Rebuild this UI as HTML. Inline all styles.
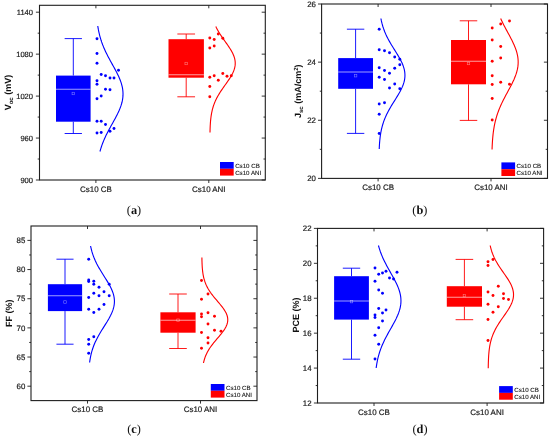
<!DOCTYPE html>
<html><head><meta charset="utf-8"><style>
html,body{margin:0;padding:0;background:#fff;}
svg{display:block;}
.tl{font-family:"Liberation Sans",Arial,sans-serif;fill:#1a1a1a;stroke:#1a1a1a;stroke-width:0.18px;}
.cl{font-family:"Liberation Sans",Arial,sans-serif;font-size:7.95px;fill:#1a1a1a;stroke:#1a1a1a;stroke-width:0.18px;}
.lg{font-family:"Liberation Sans",Arial,sans-serif;font-size:6.15px;fill:#1a1a1a;stroke:#1a1a1a;stroke-width:0.12px;}
.yt{font-family:"Liberation Sans",Arial,sans-serif;font-size:9px;font-weight:bold;fill:#111;}
.pl{font-family:"Liberation Serif","Times New Roman",serif;font-size:12.3px;fill:#111;}
svg text{text-rendering:geometricPrecision;}
</style></head><body>
<svg width="550" height="441" viewBox="0 0 550 441">
<rect width="550" height="441" fill="#fff"/>
<rect x="39.5" y="5.3" width="225.8" height="174.7" fill="none" stroke="#1e1e1e" stroke-width="1.1"/>
<line x1="35.9" y1="180.0" x2="39.5" y2="180.0" stroke="#1e1e1e" stroke-width="0.9"/>
<line x1="265.3" y1="180.0" x2="261.7" y2="180.0" stroke="#1e1e1e" stroke-width="0.9"/>
<text x="33.0" y="182.70" class="tl" text-anchor="end" font-size="7.55px">900</text>
<line x1="35.9" y1="138.05" x2="39.5" y2="138.05" stroke="#1e1e1e" stroke-width="0.9"/>
<line x1="265.3" y1="138.05" x2="261.7" y2="138.05" stroke="#1e1e1e" stroke-width="0.9"/>
<text x="33.0" y="140.75" class="tl" text-anchor="end" font-size="7.55px">960</text>
<line x1="35.9" y1="96.1" x2="39.5" y2="96.1" stroke="#1e1e1e" stroke-width="0.9"/>
<line x1="265.3" y1="96.1" x2="261.7" y2="96.1" stroke="#1e1e1e" stroke-width="0.9"/>
<text x="33.0" y="98.80" class="tl" text-anchor="end" font-size="7.55px">1020</text>
<line x1="35.9" y1="54.15" x2="39.5" y2="54.15" stroke="#1e1e1e" stroke-width="0.9"/>
<line x1="265.3" y1="54.15" x2="261.7" y2="54.15" stroke="#1e1e1e" stroke-width="0.9"/>
<text x="33.0" y="56.85" class="tl" text-anchor="end" font-size="7.55px">1080</text>
<line x1="35.9" y1="12.2" x2="39.5" y2="12.2" stroke="#1e1e1e" stroke-width="0.9"/>
<line x1="265.3" y1="12.2" x2="261.7" y2="12.2" stroke="#1e1e1e" stroke-width="0.9"/>
<text x="33.0" y="14.90" class="tl" text-anchor="end" font-size="7.55px">1140</text>
<line x1="37.7" y1="159.03" x2="39.5" y2="159.03" stroke="#1e1e1e" stroke-width="0.9"/>
<line x1="265.3" y1="159.03" x2="263.5" y2="159.03" stroke="#1e1e1e" stroke-width="0.9"/>
<line x1="37.7" y1="117.07" x2="39.5" y2="117.07" stroke="#1e1e1e" stroke-width="0.9"/>
<line x1="265.3" y1="117.07" x2="263.5" y2="117.07" stroke="#1e1e1e" stroke-width="0.9"/>
<line x1="37.7" y1="75.12" x2="39.5" y2="75.12" stroke="#1e1e1e" stroke-width="0.9"/>
<line x1="265.3" y1="75.12" x2="263.5" y2="75.12" stroke="#1e1e1e" stroke-width="0.9"/>
<line x1="37.7" y1="33.18" x2="39.5" y2="33.18" stroke="#1e1e1e" stroke-width="0.9"/>
<line x1="265.3" y1="33.18" x2="263.5" y2="33.18" stroke="#1e1e1e" stroke-width="0.9"/>
<line x1="95.9" y1="180" x2="95.9" y2="183" stroke="#1e1e1e" stroke-width="0.9"/>
<line x1="95.9" y1="5.3" x2="95.9" y2="8.3" stroke="#1e1e1e" stroke-width="0.9"/>
<text x="95.9" y="191.8" class="cl" text-anchor="middle">Cs10 CB</text>
<line x1="208.8" y1="180" x2="208.8" y2="183" stroke="#1e1e1e" stroke-width="0.9"/>
<line x1="208.8" y1="5.3" x2="208.8" y2="8.3" stroke="#1e1e1e" stroke-width="0.9"/>
<text x="208.8" y="191.8" class="cl" text-anchor="middle">Cs10 ANI</text>
<line x1="73.3" y1="38.6" x2="73.3" y2="75.6" stroke="#0000ff" stroke-width="0.9"/>
<line x1="73.3" y1="121.7" x2="73.3" y2="133.5" stroke="#0000ff" stroke-width="0.9"/>
<line x1="64.64999999999999" y1="38.6" x2="81.95" y2="38.6" stroke="#0000ff" stroke-width="0.9"/>
<line x1="64.64999999999999" y1="133.5" x2="81.95" y2="133.5" stroke="#0000ff" stroke-width="0.9"/>
<rect x="56.0" y="75.6" width="34.6" height="46.10000000000001" fill="#0000ff"/>
<line x1="56.0" y1="89.3" x2="90.6" y2="89.3" stroke="#fff" stroke-opacity="0.62" stroke-width="1.05"/>
<rect x="72.05" y="92.25" width="2.5" height="2.5" fill="none" stroke="#fff" stroke-opacity="0.5" stroke-width="0.55"/>
<line x1="186.2" y1="34.0" x2="186.2" y2="39.2" stroke="#ff0000" stroke-width="0.9"/>
<line x1="186.2" y1="77.7" x2="186.2" y2="96.8" stroke="#ff0000" stroke-width="0.9"/>
<line x1="177.35" y1="34.0" x2="195.04999999999998" y2="34.0" stroke="#ff0000" stroke-width="0.9"/>
<line x1="177.35" y1="96.8" x2="195.04999999999998" y2="96.8" stroke="#ff0000" stroke-width="0.9"/>
<rect x="168.5" y="39.2" width="35.4" height="38.5" fill="#ff0000"/>
<line x1="168.5" y1="74.8" x2="203.89999999999998" y2="74.8" stroke="#fff" stroke-opacity="0.62" stroke-width="1.05"/>
<rect x="184.95" y="62.25" width="2.5" height="2.5" fill="none" stroke="#fff" stroke-opacity="0.5" stroke-width="0.55"/>
<path d="M97.77,26.00 L98.03,27.59 L98.30,29.18 L98.61,30.77 L98.94,32.35 L99.31,33.94 L99.70,35.53 L100.13,37.12 L100.59,38.71 L101.08,40.30 L101.61,41.89 L102.18,43.47 L102.77,45.06 L103.41,46.65 L104.07,48.24 L104.77,49.83 L105.50,51.42 L106.27,53.01 L107.05,54.59 L107.87,56.18 L108.70,57.77 L109.55,59.36 L110.42,60.95 L111.30,62.54 L112.18,64.13 L113.07,65.72 L113.95,67.30 L114.82,68.89 L115.67,70.48 L116.50,72.07 L117.31,73.66 L118.08,75.25 L118.82,76.84 L119.51,78.42 L120.15,80.01 L120.74,81.60 L121.27,83.19 L121.73,84.78 L122.13,86.37 L122.46,87.96 L122.71,89.54 L122.89,91.13 L122.99,92.72 L123.02,94.31 L122.96,95.90 L122.83,97.49 L122.62,99.08 L122.34,100.66 L121.99,102.25 L121.56,103.84 L121.07,105.43 L120.52,107.02 L119.91,108.61 L119.25,110.20 L118.54,111.78 L117.79,113.37 L117.00,114.96 L116.18,116.55 L115.34,118.14 L114.48,119.73 L113.60,121.32 L112.72,122.91 L111.84,124.49 L110.96,126.08 L110.08,127.67 L109.22,129.26 L108.37,130.85 L107.55,132.44 L106.74,134.03 L105.96,135.61 L105.22,137.20 L104.50,138.79 L103.81,140.38 L103.16,141.97 L102.54,143.56 L101.95,145.15 L101.40,146.73 L100.89,148.32 L100.41,149.91 L99.96,151.50" fill="none" stroke="#0000ff" stroke-width="1.12"/>
<path d="M215.80,26.50 L216.45,27.84 L217.15,29.18 L217.89,30.53 L218.66,31.87 L219.48,33.21 L220.33,34.55 L221.21,35.89 L222.12,37.23 L223.05,38.58 L223.99,39.92 L224.95,41.26 L225.91,42.60 L226.86,43.94 L227.80,45.28 L228.71,46.63 L229.60,47.97 L230.45,49.31 L231.26,50.65 L232.01,51.99 L232.69,53.34 L233.31,54.68 L233.85,56.02 L234.31,57.36 L234.68,58.70 L234.96,60.04 L235.14,61.39 L235.23,62.73 L235.22,64.07 L235.11,65.41 L234.91,66.75 L234.61,68.09 L234.22,69.44 L233.74,70.78 L233.19,72.12 L232.56,73.46 L231.86,74.80 L231.09,76.15 L230.28,77.49 L229.42,78.83 L228.53,80.17 L227.60,81.51 L226.66,82.85 L225.71,84.20 L224.75,85.54 L223.80,86.88 L222.86,88.22 L221.93,89.56 L221.03,90.91 L220.15,92.25 L219.31,93.59 L218.50,94.93 L217.73,96.27 L217.00,97.61 L216.31,98.96 L215.67,100.30 L215.07,101.64 L214.52,102.98 L214.00,104.32 L213.53,105.66 L213.10,107.01 L212.71,108.35 L212.36,109.69 L212.04,111.03 L211.76,112.37 L211.50,113.72 L211.27,115.06 L211.07,116.40 L210.90,117.74 L210.74,119.08 L210.61,120.42 L210.49,121.77 L210.39,123.11 L210.31,124.45 L210.23,125.79 L210.17,127.13 L210.11,128.47 L210.07,129.82 L210.03,131.16 L210.00,132.50" fill="none" stroke="#ff0000" stroke-width="1.12"/>
<circle cx="97" cy="38.7" r="1.45" fill="#0000ff"/>
<circle cx="97" cy="53.5" r="1.45" fill="#0000ff"/>
<circle cx="97" cy="63.2" r="1.45" fill="#0000ff"/>
<circle cx="118.5" cy="70.2" r="1.45" fill="#0000ff"/>
<circle cx="101.2" cy="74.5" r="1.45" fill="#0000ff"/>
<circle cx="105.5" cy="75.8" r="1.45" fill="#0000ff"/>
<circle cx="110" cy="78" r="1.45" fill="#0000ff"/>
<circle cx="114" cy="78" r="1.45" fill="#0000ff"/>
<circle cx="97" cy="80.8" r="1.45" fill="#0000ff"/>
<circle cx="97" cy="84.2" r="1.45" fill="#0000ff"/>
<circle cx="105.5" cy="89.2" r="1.45" fill="#0000ff"/>
<circle cx="110" cy="89.8" r="1.45" fill="#0000ff"/>
<circle cx="101.2" cy="96" r="1.45" fill="#0000ff"/>
<circle cx="97" cy="98.8" r="1.45" fill="#0000ff"/>
<circle cx="97" cy="121.2" r="1.45" fill="#0000ff"/>
<circle cx="101.2" cy="121.2" r="1.45" fill="#0000ff"/>
<circle cx="105.5" cy="124.5" r="1.45" fill="#0000ff"/>
<circle cx="114" cy="128.5" r="1.45" fill="#0000ff"/>
<circle cx="110" cy="131.2" r="1.45" fill="#0000ff"/>
<circle cx="97" cy="133" r="1.45" fill="#0000ff"/>
<circle cx="101.2" cy="132.5" r="1.45" fill="#0000ff"/>
<circle cx="209.8" cy="38" r="1.45" fill="#ff0000"/>
<circle cx="214.2" cy="39.5" r="1.45" fill="#ff0000"/>
<circle cx="218.3" cy="34" r="1.45" fill="#ff0000"/>
<circle cx="222.8" cy="38.2" r="1.45" fill="#ff0000"/>
<circle cx="209.8" cy="48" r="1.45" fill="#ff0000"/>
<circle cx="214.2" cy="46" r="1.45" fill="#ff0000"/>
<circle cx="209.8" cy="77.3" r="1.45" fill="#ff0000"/>
<circle cx="214.2" cy="75.8" r="1.45" fill="#ff0000"/>
<circle cx="218.3" cy="80.2" r="1.45" fill="#ff0000"/>
<circle cx="222.8" cy="73.5" r="1.45" fill="#ff0000"/>
<circle cx="227" cy="76.3" r="1.45" fill="#ff0000"/>
<circle cx="231.3" cy="75.7" r="1.45" fill="#ff0000"/>
<circle cx="209.8" cy="86.5" r="1.45" fill="#ff0000"/>
<circle cx="209.8" cy="96.8" r="1.45" fill="#ff0000"/>
<rect x="220" y="162" width="13.7" height="6.8" fill="#0000ff"/>
<rect x="220" y="168.8" width="13.7" height="6.8" fill="#ff0000"/>
<text x="235.2" y="167.6" class="lg">Cs10 CB</text>
<text x="235.2" y="174.6" class="lg">Cs10 ANI</text>
<text transform="translate(11.2,92.6) rotate(-90)" class="yt" text-anchor="middle">V<tspan font-size="6" dy="2">oc</tspan><tspan dy="-2"> (mV)</tspan></text>
<text x="134" y="213.9" class="pl" text-anchor="middle">(<tspan font-weight="bold">a</tspan>)</text>
<rect x="321.6" y="4.0" width="225.89999999999998" height="174.4" fill="none" stroke="#1e1e1e" stroke-width="1.1"/>
<line x1="318.0" y1="178.4" x2="321.6" y2="178.4" stroke="#1e1e1e" stroke-width="0.9"/>
<line x1="547.5" y1="178.4" x2="543.9" y2="178.4" stroke="#1e1e1e" stroke-width="0.9"/>
<text x="315.90000000000003" y="181.10" class="tl" text-anchor="end" font-size="7.85px">20</text>
<line x1="318.0" y1="120.27" x2="321.6" y2="120.27" stroke="#1e1e1e" stroke-width="0.9"/>
<line x1="547.5" y1="120.27" x2="543.9" y2="120.27" stroke="#1e1e1e" stroke-width="0.9"/>
<text x="315.90000000000003" y="122.97" class="tl" text-anchor="end" font-size="7.85px">22</text>
<line x1="318.0" y1="62.13" x2="321.6" y2="62.13" stroke="#1e1e1e" stroke-width="0.9"/>
<line x1="547.5" y1="62.13" x2="543.9" y2="62.13" stroke="#1e1e1e" stroke-width="0.9"/>
<text x="315.90000000000003" y="64.83" class="tl" text-anchor="end" font-size="7.85px">24</text>
<line x1="318.0" y1="4.0" x2="321.6" y2="4.0" stroke="#1e1e1e" stroke-width="0.9"/>
<line x1="547.5" y1="4.0" x2="543.9" y2="4.0" stroke="#1e1e1e" stroke-width="0.9"/>
<text x="315.90000000000003" y="6.70" class="tl" text-anchor="end" font-size="7.85px">26</text>
<line x1="319.8" y1="149.33" x2="321.6" y2="149.33" stroke="#1e1e1e" stroke-width="0.9"/>
<line x1="547.5" y1="149.33" x2="545.7" y2="149.33" stroke="#1e1e1e" stroke-width="0.9"/>
<line x1="319.8" y1="91.2" x2="321.6" y2="91.2" stroke="#1e1e1e" stroke-width="0.9"/>
<line x1="547.5" y1="91.2" x2="545.7" y2="91.2" stroke="#1e1e1e" stroke-width="0.9"/>
<line x1="319.8" y1="33.07" x2="321.6" y2="33.07" stroke="#1e1e1e" stroke-width="0.9"/>
<line x1="547.5" y1="33.07" x2="545.7" y2="33.07" stroke="#1e1e1e" stroke-width="0.9"/>
<line x1="378.1" y1="178.4" x2="378.1" y2="181.4" stroke="#1e1e1e" stroke-width="0.9"/>
<line x1="378.1" y1="4.0" x2="378.1" y2="7.0" stroke="#1e1e1e" stroke-width="0.9"/>
<text x="378.1" y="190.20000000000002" class="cl" text-anchor="middle">Cs10 CB</text>
<line x1="491.0" y1="178.4" x2="491.0" y2="181.4" stroke="#1e1e1e" stroke-width="0.9"/>
<line x1="491.0" y1="4.0" x2="491.0" y2="7.0" stroke="#1e1e1e" stroke-width="0.9"/>
<text x="491.0" y="190.20000000000002" class="cl" text-anchor="middle">Cs10 ANI</text>
<line x1="355.6" y1="29.2" x2="355.6" y2="58.1" stroke="#0000ff" stroke-width="0.9"/>
<line x1="355.6" y1="88.8" x2="355.6" y2="133.4" stroke="#0000ff" stroke-width="0.9"/>
<line x1="346.90000000000003" y1="29.2" x2="364.3" y2="29.2" stroke="#0000ff" stroke-width="0.9"/>
<line x1="346.90000000000003" y1="133.4" x2="364.3" y2="133.4" stroke="#0000ff" stroke-width="0.9"/>
<rect x="338.20000000000005" y="58.1" width="34.8" height="30.699999999999996" fill="#0000ff"/>
<line x1="338.20000000000005" y1="72.0" x2="373.0" y2="72.0" stroke="#fff" stroke-opacity="0.62" stroke-width="1.05"/>
<rect x="354.35" y="74.45" width="2.5" height="2.5" fill="none" stroke="#fff" stroke-opacity="0.5" stroke-width="0.55"/>
<line x1="468.5" y1="20.8" x2="468.5" y2="40" stroke="#ff0000" stroke-width="0.9"/>
<line x1="468.5" y1="84.3" x2="468.5" y2="120.4" stroke="#ff0000" stroke-width="0.9"/>
<line x1="459.75" y1="20.8" x2="477.25" y2="20.8" stroke="#ff0000" stroke-width="0.9"/>
<line x1="459.75" y1="120.4" x2="477.25" y2="120.4" stroke="#ff0000" stroke-width="0.9"/>
<rect x="451.0" y="40" width="35.0" height="44.3" fill="#ff0000"/>
<line x1="451.0" y1="61.2" x2="486.0" y2="61.2" stroke="#fff" stroke-opacity="0.62" stroke-width="1.05"/>
<rect x="467.25" y="62.25" width="2.5" height="2.5" fill="none" stroke="#fff" stroke-opacity="0.5" stroke-width="0.55"/>
<path d="M380.92,18.50 L381.24,20.15 L381.61,21.80 L382.01,23.46 L382.46,25.11 L382.95,26.76 L383.49,28.41 L384.08,30.06 L384.71,31.72 L385.40,33.37 L386.14,35.02 L386.93,36.67 L387.76,38.32 L388.64,39.97 L389.56,41.63 L390.51,43.28 L391.49,44.93 L392.50,46.58 L393.53,48.23 L394.56,49.89 L395.60,51.54 L396.63,53.19 L397.64,54.84 L398.62,56.49 L399.57,58.15 L400.46,59.80 L401.30,61.45 L402.07,63.10 L402.77,64.75 L403.38,66.41 L403.90,68.06 L404.32,69.71 L404.64,71.36 L404.84,73.01 L404.94,74.66 L404.93,76.32 L404.80,77.97 L404.57,79.62 L404.22,81.27 L403.78,82.92 L403.23,84.58 L402.60,86.23 L401.88,87.88 L401.09,89.53 L400.24,91.18 L399.33,92.84 L398.37,94.49 L397.38,96.14 L396.37,97.79 L395.34,99.44 L394.30,101.09 L393.26,102.75 L392.24,104.40 L391.24,106.05 L390.26,107.70 L389.32,109.35 L388.41,111.01 L387.54,112.66 L386.72,114.31 L385.95,115.96 L385.22,117.61 L384.55,119.27 L383.92,120.92 L383.35,122.57 L382.82,124.22 L382.34,125.87 L381.90,127.53 L381.51,129.18 L381.16,130.83 L380.84,132.48 L380.57,134.13 L380.32,135.78 L380.11,137.44 L379.92,139.09 L379.75,140.74 L379.61,142.39 L379.49,144.04 L379.39,145.70 L379.30,147.35 L379.22,149.00" fill="none" stroke="#0000ff" stroke-width="1.12"/>
<path d="M500.68,18.50 L501.44,20.16 L502.22,21.82 L503.04,23.48 L503.88,25.14 L504.74,26.80 L505.61,28.46 L506.50,30.12 L507.40,31.78 L508.30,33.44 L509.19,35.09 L510.08,36.75 L510.95,38.41 L511.80,40.07 L512.62,41.73 L513.40,43.39 L514.15,45.05 L514.84,46.71 L515.49,48.37 L516.07,50.03 L516.60,51.69 L517.05,53.35 L517.43,55.01 L517.74,56.67 L517.96,58.33 L518.11,59.99 L518.17,61.65 L518.15,63.31 L518.04,64.97 L517.86,66.63 L517.59,68.28 L517.25,69.94 L516.83,71.60 L516.34,73.26 L515.79,74.92 L515.17,76.58 L514.50,78.24 L513.78,79.90 L513.01,81.56 L512.21,83.22 L511.37,84.88 L510.51,86.54 L509.63,88.20 L508.74,89.86 L507.85,91.52 L506.95,93.18 L506.05,94.84 L505.17,96.50 L504.30,98.16 L503.45,99.82 L502.63,101.47 L501.83,103.13 L501.06,104.79 L500.32,106.45 L499.61,108.11 L498.94,109.77 L498.31,111.43 L497.71,113.09 L497.15,114.75 L496.63,116.41 L496.14,118.07 L495.69,119.73 L495.27,121.39 L494.89,123.05 L494.54,124.71 L494.22,126.37 L493.93,128.03 L493.67,129.69 L493.43,131.35 L493.22,133.01 L493.03,134.66 L492.86,136.32 L492.71,137.98 L492.57,139.64 L492.46,141.30 L492.35,142.96 L492.26,144.62 L492.18,146.28 L492.11,147.94 L492.05,149.60" fill="none" stroke="#ff0000" stroke-width="1.12"/>
<circle cx="379.2" cy="29.2" r="1.45" fill="#0000ff"/>
<circle cx="379.2" cy="49.7" r="1.45" fill="#0000ff"/>
<circle cx="384.5" cy="50.7" r="1.45" fill="#0000ff"/>
<circle cx="389.5" cy="52.7" r="1.45" fill="#0000ff"/>
<circle cx="394.7" cy="57" r="1.45" fill="#0000ff"/>
<circle cx="399.8" cy="59.3" r="1.45" fill="#0000ff"/>
<circle cx="399.8" cy="64.8" r="1.45" fill="#0000ff"/>
<circle cx="394.7" cy="68.3" r="1.45" fill="#0000ff"/>
<circle cx="379.2" cy="67.7" r="1.45" fill="#0000ff"/>
<circle cx="384.5" cy="70.5" r="1.45" fill="#0000ff"/>
<circle cx="389.5" cy="73.3" r="1.45" fill="#0000ff"/>
<circle cx="379.2" cy="77.2" r="1.45" fill="#0000ff"/>
<circle cx="384.5" cy="79.5" r="1.45" fill="#0000ff"/>
<circle cx="394.7" cy="84" r="1.45" fill="#0000ff"/>
<circle cx="389.5" cy="88" r="1.45" fill="#0000ff"/>
<circle cx="399.8" cy="88.7" r="1.45" fill="#0000ff"/>
<circle cx="379.2" cy="104" r="1.45" fill="#0000ff"/>
<circle cx="384.5" cy="102.7" r="1.45" fill="#0000ff"/>
<circle cx="379.2" cy="114.3" r="1.45" fill="#0000ff"/>
<circle cx="379.2" cy="133.5" r="1.45" fill="#0000ff"/>
<circle cx="492.2" cy="28" r="1.45" fill="#ff0000"/>
<circle cx="492.2" cy="40" r="1.45" fill="#ff0000"/>
<circle cx="500.7" cy="24" r="1.45" fill="#ff0000"/>
<circle cx="509.5" cy="21" r="1.45" fill="#ff0000"/>
<circle cx="500.7" cy="46.5" r="1.45" fill="#ff0000"/>
<circle cx="500.7" cy="58" r="1.45" fill="#ff0000"/>
<circle cx="492.2" cy="61.2" r="1.45" fill="#ff0000"/>
<circle cx="492.2" cy="75.7" r="1.45" fill="#ff0000"/>
<circle cx="500.7" cy="82.2" r="1.45" fill="#ff0000"/>
<circle cx="509.5" cy="84.2" r="1.45" fill="#ff0000"/>
<circle cx="492.2" cy="84.5" r="1.45" fill="#ff0000"/>
<circle cx="492.2" cy="98.5" r="1.45" fill="#ff0000"/>
<circle cx="492.2" cy="120" r="1.45" fill="#ff0000"/>
<rect x="501.4" y="162.4" width="13.7" height="6.8" fill="#0000ff"/>
<rect x="501.4" y="169.20000000000002" width="13.7" height="6.8" fill="#ff0000"/>
<text x="516.6" y="168.0" class="lg">Cs10 CB</text>
<text x="516.6" y="175.0" class="lg">Cs10 ANI</text>
<text transform="translate(300.5,91.2) rotate(-90)" class="yt" text-anchor="middle">J<tspan font-size="6" dy="2">sc</tspan><tspan dy="-2"> (mA/cm</tspan><tspan font-size="6" dy="-3">2</tspan><tspan dy="3">)</tspan></text>
<text x="419.9" y="214.2" class="pl" text-anchor="middle">(<tspan font-weight="bold">b</tspan>)</text>
<rect x="31" y="226" width="226" height="174.60000000000002" fill="none" stroke="#1e1e1e" stroke-width="1.1"/>
<line x1="27.4" y1="386.2" x2="31" y2="386.2" stroke="#1e1e1e" stroke-width="0.9"/>
<line x1="257" y1="386.2" x2="253.4" y2="386.2" stroke="#1e1e1e" stroke-width="0.9"/>
<text x="25.3" y="388.90" class="tl" text-anchor="end" font-size="7.85px">60</text>
<line x1="27.4" y1="357.04" x2="31" y2="357.04" stroke="#1e1e1e" stroke-width="0.9"/>
<line x1="257" y1="357.04" x2="253.4" y2="357.04" stroke="#1e1e1e" stroke-width="0.9"/>
<text x="25.3" y="359.74" class="tl" text-anchor="end" font-size="7.85px">65</text>
<line x1="27.4" y1="327.88" x2="31" y2="327.88" stroke="#1e1e1e" stroke-width="0.9"/>
<line x1="257" y1="327.88" x2="253.4" y2="327.88" stroke="#1e1e1e" stroke-width="0.9"/>
<text x="25.3" y="330.58" class="tl" text-anchor="end" font-size="7.85px">70</text>
<line x1="27.4" y1="298.72" x2="31" y2="298.72" stroke="#1e1e1e" stroke-width="0.9"/>
<line x1="257" y1="298.72" x2="253.4" y2="298.72" stroke="#1e1e1e" stroke-width="0.9"/>
<text x="25.3" y="301.42" class="tl" text-anchor="end" font-size="7.85px">75</text>
<line x1="27.4" y1="269.56" x2="31" y2="269.56" stroke="#1e1e1e" stroke-width="0.9"/>
<line x1="257" y1="269.56" x2="253.4" y2="269.56" stroke="#1e1e1e" stroke-width="0.9"/>
<text x="25.3" y="272.26" class="tl" text-anchor="end" font-size="7.85px">80</text>
<line x1="27.4" y1="240.4" x2="31" y2="240.4" stroke="#1e1e1e" stroke-width="0.9"/>
<line x1="257" y1="240.4" x2="253.4" y2="240.4" stroke="#1e1e1e" stroke-width="0.9"/>
<text x="25.3" y="243.10" class="tl" text-anchor="end" font-size="7.85px">85</text>
<line x1="29.2" y1="371.62" x2="31" y2="371.62" stroke="#1e1e1e" stroke-width="0.9"/>
<line x1="257" y1="371.62" x2="255.2" y2="371.62" stroke="#1e1e1e" stroke-width="0.9"/>
<line x1="29.2" y1="342.46" x2="31" y2="342.46" stroke="#1e1e1e" stroke-width="0.9"/>
<line x1="257" y1="342.46" x2="255.2" y2="342.46" stroke="#1e1e1e" stroke-width="0.9"/>
<line x1="29.2" y1="313.3" x2="31" y2="313.3" stroke="#1e1e1e" stroke-width="0.9"/>
<line x1="257" y1="313.3" x2="255.2" y2="313.3" stroke="#1e1e1e" stroke-width="0.9"/>
<line x1="29.2" y1="284.14" x2="31" y2="284.14" stroke="#1e1e1e" stroke-width="0.9"/>
<line x1="257" y1="284.14" x2="255.2" y2="284.14" stroke="#1e1e1e" stroke-width="0.9"/>
<line x1="29.2" y1="254.98" x2="31" y2="254.98" stroke="#1e1e1e" stroke-width="0.9"/>
<line x1="257" y1="254.98" x2="255.2" y2="254.98" stroke="#1e1e1e" stroke-width="0.9"/>
<line x1="87.5" y1="400.6" x2="87.5" y2="403.6" stroke="#1e1e1e" stroke-width="0.9"/>
<line x1="87.5" y1="226" x2="87.5" y2="229" stroke="#1e1e1e" stroke-width="0.9"/>
<text x="87.5" y="412.40000000000003" class="cl" text-anchor="middle">Cs10 CB</text>
<line x1="200.5" y1="400.6" x2="200.5" y2="403.6" stroke="#1e1e1e" stroke-width="0.9"/>
<line x1="200.5" y1="226" x2="200.5" y2="229" stroke="#1e1e1e" stroke-width="0.9"/>
<text x="200.5" y="412.40000000000003" class="cl" text-anchor="middle">Cs10 ANI</text>
<line x1="65" y1="259.2" x2="65" y2="284.2" stroke="#0000ff" stroke-width="0.9"/>
<line x1="65" y1="311.1" x2="65" y2="344.2" stroke="#0000ff" stroke-width="0.9"/>
<line x1="56.45" y1="259.2" x2="73.55" y2="259.2" stroke="#0000ff" stroke-width="0.9"/>
<line x1="56.45" y1="344.2" x2="73.55" y2="344.2" stroke="#0000ff" stroke-width="0.9"/>
<rect x="47.9" y="284.2" width="34.2" height="26.900000000000034" fill="#0000ff"/>
<line x1="47.9" y1="295.7" x2="82.1" y2="295.7" stroke="#fff" stroke-opacity="0.62" stroke-width="1.05"/>
<rect x="63.75" y="300.75" width="2.5" height="2.5" fill="none" stroke="#fff" stroke-opacity="0.5" stroke-width="0.55"/>
<line x1="178" y1="294" x2="178" y2="312.3" stroke="#ff0000" stroke-width="0.9"/>
<line x1="178" y1="332.7" x2="178" y2="348.5" stroke="#ff0000" stroke-width="0.9"/>
<line x1="169.2" y1="294" x2="186.8" y2="294" stroke="#ff0000" stroke-width="0.9"/>
<line x1="169.2" y1="348.5" x2="186.8" y2="348.5" stroke="#ff0000" stroke-width="0.9"/>
<rect x="160.4" y="312.3" width="35.2" height="20.399999999999977" fill="#ff0000"/>
<line x1="160.4" y1="320.2" x2="195.6" y2="320.2" stroke="#fff" stroke-opacity="0.62" stroke-width="1.05"/>
<rect x="176.75" y="318.95" width="2.5" height="2.5" fill="none" stroke="#fff" stroke-opacity="0.5" stroke-width="0.55"/>
<path d="M90.56,246.00 L90.87,247.47 L91.22,248.95 L91.60,250.42 L92.01,251.90 L92.46,253.37 L92.96,254.85 L93.49,256.32 L94.06,257.80 L94.67,259.27 L95.32,260.75 L96.01,262.22 L96.74,263.70 L97.51,265.17 L98.31,266.65 L99.14,268.12 L100.00,269.59 L100.89,271.07 L101.79,272.54 L102.71,274.02 L103.64,275.49 L104.57,276.97 L105.50,278.44 L106.42,279.92 L107.32,281.39 L108.20,282.87 L109.05,284.34 L109.86,285.82 L110.62,287.29 L111.33,288.77 L111.98,290.24 L112.57,291.72 L113.08,293.19 L113.51,294.66 L113.87,296.14 L114.14,297.61 L114.32,299.09 L114.42,300.56 L114.42,302.04 L114.33,303.51 L114.16,304.99 L113.89,306.46 L113.55,307.94 L113.12,309.41 L112.61,310.89 L112.03,312.36 L111.39,313.84 L110.68,315.31 L109.92,316.78 L109.12,318.26 L108.27,319.73 L107.40,321.21 L106.49,322.68 L105.58,324.16 L104.65,325.63 L103.71,327.11 L102.78,328.58 L101.86,330.06 L100.96,331.53 L100.07,333.01 L99.21,334.48 L98.37,335.96 L97.57,337.43 L96.80,338.91 L96.07,340.38 L95.37,341.85 L94.72,343.33 L94.11,344.80 L93.53,346.28 L93.00,347.75 L92.50,349.23 L92.05,350.70 L91.63,352.18 L91.25,353.65 L90.90,355.13 L90.58,356.60 L90.30,358.08 L90.04,359.55 L89.81,361.03 L89.61,362.50" fill="none" stroke="#0000ff" stroke-width="1.12"/>
<path d="M201.90,257.50 L201.92,258.84 L201.95,260.17 L201.99,261.51 L202.03,262.84 L202.09,264.18 L202.15,265.51 L202.23,266.85 L202.33,268.18 L202.45,269.52 L202.58,270.85 L202.74,272.19 L202.93,273.53 L203.15,274.86 L203.41,276.20 L203.70,277.53 L204.04,278.87 L204.42,280.20 L204.85,281.54 L205.33,282.87 L205.87,284.21 L206.46,285.54 L207.11,286.88 L207.83,288.22 L208.60,289.55 L209.44,290.89 L210.33,292.22 L211.28,293.56 L212.28,294.89 L213.32,296.23 L214.40,297.56 L215.51,298.90 L216.64,300.23 L217.78,301.57 L218.91,302.91 L220.03,304.24 L221.13,305.58 L222.18,306.91 L223.18,308.25 L224.11,309.58 L224.95,310.92 L225.71,312.25 L226.36,313.59 L226.89,314.92 L227.31,316.26 L227.59,317.59 L227.74,318.93 L227.76,320.27 L227.64,321.60 L227.39,322.94 L227.01,324.27 L226.50,325.61 L225.88,326.94 L225.15,328.28 L224.32,329.61 L223.41,330.95 L222.43,332.28 L221.39,333.62 L220.30,334.96 L219.19,336.29 L218.05,337.63 L216.91,338.96 L215.78,340.30 L214.67,341.63 L213.58,342.97 L212.53,344.30 L211.52,345.64 L210.56,346.97 L209.65,348.31 L208.80,349.65 L208.01,350.98 L207.28,352.32 L206.61,353.65 L206.00,354.99 L205.45,356.32 L204.96,357.66 L204.52,358.99 L204.12,360.33 L203.78,361.66 L203.48,363.00" fill="none" stroke="#ff0000" stroke-width="1.12"/>
<circle cx="88.7" cy="259.2" r="1.45" fill="#0000ff"/>
<circle cx="88.7" cy="280" r="1.45" fill="#0000ff"/>
<circle cx="88.7" cy="281.5" r="1.45" fill="#0000ff"/>
<circle cx="93.8" cy="281.3" r="1.45" fill="#0000ff"/>
<circle cx="93.8" cy="284.3" r="1.45" fill="#0000ff"/>
<circle cx="99" cy="287.2" r="1.45" fill="#0000ff"/>
<circle cx="109.2" cy="284.2" r="1.45" fill="#0000ff"/>
<circle cx="104" cy="291.7" r="1.45" fill="#0000ff"/>
<circle cx="93.8" cy="293.3" r="1.45" fill="#0000ff"/>
<circle cx="99" cy="295.7" r="1.45" fill="#0000ff"/>
<circle cx="109.2" cy="295.7" r="1.45" fill="#0000ff"/>
<circle cx="88.7" cy="297.5" r="1.45" fill="#0000ff"/>
<circle cx="104" cy="304.5" r="1.45" fill="#0000ff"/>
<circle cx="88.7" cy="309.2" r="1.45" fill="#0000ff"/>
<circle cx="99" cy="309.2" r="1.45" fill="#0000ff"/>
<circle cx="93.8" cy="312.5" r="1.45" fill="#0000ff"/>
<circle cx="88.7" cy="339.5" r="1.45" fill="#0000ff"/>
<circle cx="93.8" cy="336.8" r="1.45" fill="#0000ff"/>
<circle cx="88.7" cy="344.3" r="1.45" fill="#0000ff"/>
<circle cx="88.7" cy="353.2" r="1.45" fill="#0000ff"/>
<circle cx="201.5" cy="280.5" r="1.45" fill="#ff0000"/>
<circle cx="208" cy="294" r="1.45" fill="#ff0000"/>
<circle cx="201.5" cy="299.3" r="1.45" fill="#ff0000"/>
<circle cx="208" cy="312.8" r="1.45" fill="#ff0000"/>
<circle cx="201.5" cy="314" r="1.45" fill="#ff0000"/>
<circle cx="201.5" cy="316.8" r="1.45" fill="#ff0000"/>
<circle cx="214.5" cy="316.3" r="1.45" fill="#ff0000"/>
<circle cx="208" cy="324" r="1.45" fill="#ff0000"/>
<circle cx="214.5" cy="330.3" r="1.45" fill="#ff0000"/>
<circle cx="221" cy="331.3" r="1.45" fill="#ff0000"/>
<circle cx="201.5" cy="332.5" r="1.45" fill="#ff0000"/>
<circle cx="208" cy="337.8" r="1.45" fill="#ff0000"/>
<circle cx="208" cy="343" r="1.45" fill="#ff0000"/>
<circle cx="201.5" cy="348.3" r="1.45" fill="#ff0000"/>
<rect x="210.8" y="384" width="13.7" height="6.8" fill="#0000ff"/>
<rect x="210.8" y="390.8" width="13.7" height="6.8" fill="#ff0000"/>
<text x="226.0" y="389.6" class="lg">Cs10 CB</text>
<text x="226.0" y="396.6" class="lg">Cs10 ANI</text>
<text transform="translate(11.9,313.2) rotate(-90)" class="yt" text-anchor="middle">FF (%)</text>
<text x="134" y="433.2" class="pl" text-anchor="middle">(<tspan font-weight="bold">c</tspan>)</text>
<rect x="317.5" y="228.4" width="226.10000000000002" height="174.6" fill="none" stroke="#1e1e1e" stroke-width="1.1"/>
<line x1="313.9" y1="403.0" x2="317.5" y2="403.0" stroke="#1e1e1e" stroke-width="0.9"/>
<line x1="543.6" y1="403.0" x2="540.0" y2="403.0" stroke="#1e1e1e" stroke-width="0.9"/>
<text x="311.5" y="405.70" class="tl" text-anchor="end" font-size="7.85px">12</text>
<line x1="313.9" y1="368.08" x2="317.5" y2="368.08" stroke="#1e1e1e" stroke-width="0.9"/>
<line x1="543.6" y1="368.08" x2="540.0" y2="368.08" stroke="#1e1e1e" stroke-width="0.9"/>
<text x="311.5" y="370.78" class="tl" text-anchor="end" font-size="7.85px">14</text>
<line x1="313.9" y1="333.16" x2="317.5" y2="333.16" stroke="#1e1e1e" stroke-width="0.9"/>
<line x1="543.6" y1="333.16" x2="540.0" y2="333.16" stroke="#1e1e1e" stroke-width="0.9"/>
<text x="311.5" y="335.86" class="tl" text-anchor="end" font-size="7.85px">16</text>
<line x1="313.9" y1="298.24" x2="317.5" y2="298.24" stroke="#1e1e1e" stroke-width="0.9"/>
<line x1="543.6" y1="298.24" x2="540.0" y2="298.24" stroke="#1e1e1e" stroke-width="0.9"/>
<text x="311.5" y="300.94" class="tl" text-anchor="end" font-size="7.85px">18</text>
<line x1="313.9" y1="263.32" x2="317.5" y2="263.32" stroke="#1e1e1e" stroke-width="0.9"/>
<line x1="543.6" y1="263.32" x2="540.0" y2="263.32" stroke="#1e1e1e" stroke-width="0.9"/>
<text x="311.5" y="266.02" class="tl" text-anchor="end" font-size="7.85px">20</text>
<line x1="313.9" y1="228.4" x2="317.5" y2="228.4" stroke="#1e1e1e" stroke-width="0.9"/>
<line x1="543.6" y1="228.4" x2="540.0" y2="228.4" stroke="#1e1e1e" stroke-width="0.9"/>
<text x="311.5" y="231.10" class="tl" text-anchor="end" font-size="7.85px">22</text>
<line x1="315.7" y1="385.54" x2="317.5" y2="385.54" stroke="#1e1e1e" stroke-width="0.9"/>
<line x1="543.6" y1="385.54" x2="541.8000000000001" y2="385.54" stroke="#1e1e1e" stroke-width="0.9"/>
<line x1="315.7" y1="350.62" x2="317.5" y2="350.62" stroke="#1e1e1e" stroke-width="0.9"/>
<line x1="543.6" y1="350.62" x2="541.8000000000001" y2="350.62" stroke="#1e1e1e" stroke-width="0.9"/>
<line x1="315.7" y1="315.7" x2="317.5" y2="315.7" stroke="#1e1e1e" stroke-width="0.9"/>
<line x1="543.6" y1="315.7" x2="541.8000000000001" y2="315.7" stroke="#1e1e1e" stroke-width="0.9"/>
<line x1="315.7" y1="280.78" x2="317.5" y2="280.78" stroke="#1e1e1e" stroke-width="0.9"/>
<line x1="543.6" y1="280.78" x2="541.8000000000001" y2="280.78" stroke="#1e1e1e" stroke-width="0.9"/>
<line x1="315.7" y1="245.86" x2="317.5" y2="245.86" stroke="#1e1e1e" stroke-width="0.9"/>
<line x1="543.6" y1="245.86" x2="541.8000000000001" y2="245.86" stroke="#1e1e1e" stroke-width="0.9"/>
<line x1="374.0" y1="403" x2="374.0" y2="406" stroke="#1e1e1e" stroke-width="0.9"/>
<line x1="374.0" y1="228.4" x2="374.0" y2="231.4" stroke="#1e1e1e" stroke-width="0.9"/>
<text x="374.0" y="414.8" class="cl" text-anchor="middle">Cs10 CB</text>
<line x1="487.1" y1="403" x2="487.1" y2="406" stroke="#1e1e1e" stroke-width="0.9"/>
<line x1="487.1" y1="228.4" x2="487.1" y2="231.4" stroke="#1e1e1e" stroke-width="0.9"/>
<text x="487.1" y="414.8" class="cl" text-anchor="middle">Cs10 ANI</text>
<line x1="351.5" y1="268.2" x2="351.5" y2="276.2" stroke="#0000ff" stroke-width="0.9"/>
<line x1="351.5" y1="319.6" x2="351.5" y2="359.2" stroke="#0000ff" stroke-width="0.9"/>
<line x1="342.8" y1="268.2" x2="360.2" y2="268.2" stroke="#0000ff" stroke-width="0.9"/>
<line x1="342.8" y1="359.2" x2="360.2" y2="359.2" stroke="#0000ff" stroke-width="0.9"/>
<rect x="334.1" y="276.2" width="34.8" height="43.400000000000034" fill="#0000ff"/>
<line x1="334.1" y1="301" x2="368.9" y2="301" stroke="#fff" stroke-opacity="0.62" stroke-width="1.05"/>
<rect x="350.25" y="300.35" width="2.5" height="2.5" fill="none" stroke="#fff" stroke-opacity="0.5" stroke-width="0.55"/>
<line x1="464.4" y1="259.4" x2="464.4" y2="286.2" stroke="#ff0000" stroke-width="0.9"/>
<line x1="464.4" y1="306.7" x2="464.4" y2="319.7" stroke="#ff0000" stroke-width="0.9"/>
<line x1="455.59999999999997" y1="259.4" x2="473.2" y2="259.4" stroke="#ff0000" stroke-width="0.9"/>
<line x1="455.59999999999997" y1="319.7" x2="473.2" y2="319.7" stroke="#ff0000" stroke-width="0.9"/>
<rect x="446.79999999999995" y="286.2" width="35.2" height="20.5" fill="#ff0000"/>
<line x1="446.79999999999995" y1="297.2" x2="482.0" y2="297.2" stroke="#fff" stroke-opacity="0.62" stroke-width="1.05"/>
<rect x="463.15" y="294.35" width="2.5" height="2.5" fill="none" stroke="#fff" stroke-opacity="0.5" stroke-width="0.55"/>
<path d="M378.47,245.50 L378.90,247.05 L379.36,248.60 L379.86,250.15 L380.39,251.70 L380.96,253.25 L381.56,254.80 L382.20,256.35 L382.88,257.91 L383.59,259.46 L384.32,261.01 L385.09,262.56 L385.89,264.11 L386.71,265.66 L387.55,267.21 L388.40,268.76 L389.27,270.31 L390.15,271.86 L391.03,273.41 L391.91,274.96 L392.78,276.51 L393.63,278.06 L394.47,279.61 L395.28,281.16 L396.05,282.72 L396.79,284.27 L397.48,285.82 L398.13,287.37 L398.72,288.92 L399.25,290.47 L399.71,292.02 L400.11,293.57 L400.43,295.12 L400.68,296.67 L400.85,298.22 L400.94,299.77 L400.96,301.32 L400.89,302.87 L400.74,304.42 L400.51,305.97 L400.21,307.53 L399.84,309.08 L399.39,310.63 L398.88,312.18 L398.31,313.73 L397.68,315.28 L397.00,316.83 L396.28,318.38 L395.51,319.93 L394.71,321.48 L393.88,323.03 L393.03,324.58 L392.17,326.13 L391.29,327.68 L390.41,329.23 L389.54,330.78 L388.66,332.34 L387.80,333.89 L386.96,335.44 L386.13,336.99 L385.33,338.54 L384.55,340.09 L383.80,341.64 L383.09,343.19 L382.40,344.74 L381.75,346.29 L381.14,347.84 L380.56,349.39 L380.01,350.94 L379.50,352.49 L379.03,354.04 L378.59,355.59 L378.19,357.15 L377.81,358.70 L377.47,360.25 L377.16,361.80 L376.87,363.35 L376.62,364.90 L376.38,366.45 L376.17,368.00" fill="none" stroke="#0000ff" stroke-width="1.12"/>
<path d="M490.19,245.50 L490.54,247.05 L490.93,248.61 L491.37,250.16 L491.86,251.71 L492.40,253.27 L493.00,254.82 L493.66,256.37 L494.37,257.93 L495.14,259.48 L495.96,261.03 L496.84,262.58 L497.76,264.14 L498.74,265.69 L499.75,267.24 L500.79,268.80 L501.86,270.35 L502.95,271.90 L504.04,273.46 L505.13,275.01 L506.20,276.56 L507.24,278.12 L508.24,279.67 L509.18,281.22 L510.06,282.78 L510.87,284.33 L511.58,285.88 L512.19,287.44 L512.70,288.99 L513.09,290.54 L513.36,292.09 L513.50,293.65 L513.52,295.20 L513.41,296.75 L513.18,298.31 L512.82,299.86 L512.34,301.41 L511.76,302.97 L511.07,304.52 L510.29,306.07 L509.43,307.63 L508.51,309.18 L507.52,310.73 L506.49,312.29 L505.43,313.84 L504.34,315.39 L503.25,316.95 L502.16,318.50 L501.09,320.05 L500.03,321.61 L499.01,323.16 L498.03,324.71 L497.09,326.26 L496.20,327.82 L495.36,329.37 L494.58,330.92 L493.85,332.48 L493.18,334.03 L492.56,335.58 L492.01,337.14 L491.50,338.69 L491.05,340.24 L490.64,341.80 L490.28,343.35 L489.97,344.90 L489.69,346.46 L489.45,348.01 L489.24,349.56 L489.06,351.12 L488.91,352.67 L488.77,354.22 L488.66,355.77 L488.57,357.33 L488.49,358.88 L488.43,360.43 L488.37,361.99 L488.33,363.54 L488.29,365.09 L488.26,366.65 L488.24,368.20" fill="none" stroke="#ff0000" stroke-width="1.12"/>
<circle cx="375" cy="268" r="1.45" fill="#0000ff"/>
<circle cx="378.7" cy="274.3" r="1.45" fill="#0000ff"/>
<circle cx="382.5" cy="273" r="1.45" fill="#0000ff"/>
<circle cx="386" cy="271.3" r="1.45" fill="#0000ff"/>
<circle cx="397" cy="272.3" r="1.45" fill="#0000ff"/>
<circle cx="389.5" cy="278" r="1.45" fill="#0000ff"/>
<circle cx="393.5" cy="279" r="1.45" fill="#0000ff"/>
<circle cx="375" cy="281.3" r="1.45" fill="#0000ff"/>
<circle cx="378.7" cy="290" r="1.45" fill="#0000ff"/>
<circle cx="382.5" cy="293.3" r="1.45" fill="#0000ff"/>
<circle cx="378.7" cy="308.5" r="1.45" fill="#0000ff"/>
<circle cx="386" cy="310" r="1.45" fill="#0000ff"/>
<circle cx="382.5" cy="313" r="1.45" fill="#0000ff"/>
<circle cx="375" cy="315" r="1.45" fill="#0000ff"/>
<circle cx="375" cy="317.5" r="1.45" fill="#0000ff"/>
<circle cx="382.5" cy="321" r="1.45" fill="#0000ff"/>
<circle cx="378.7" cy="327.7" r="1.45" fill="#0000ff"/>
<circle cx="375" cy="335.3" r="1.45" fill="#0000ff"/>
<circle cx="378.7" cy="344.3" r="1.45" fill="#0000ff"/>
<circle cx="375" cy="359" r="1.45" fill="#0000ff"/>
<circle cx="488" cy="261.8" r="1.45" fill="#ff0000"/>
<circle cx="488" cy="265.5" r="1.45" fill="#ff0000"/>
<circle cx="493" cy="259.5" r="1.45" fill="#ff0000"/>
<circle cx="498.3" cy="286.3" r="1.45" fill="#ff0000"/>
<circle cx="488" cy="292" r="1.45" fill="#ff0000"/>
<circle cx="493" cy="295.5" r="1.45" fill="#ff0000"/>
<circle cx="503.5" cy="293.7" r="1.45" fill="#ff0000"/>
<circle cx="503.5" cy="298.5" r="1.45" fill="#ff0000"/>
<circle cx="508.5" cy="299.5" r="1.45" fill="#ff0000"/>
<circle cx="488" cy="304.3" r="1.45" fill="#ff0000"/>
<circle cx="498.3" cy="306.7" r="1.45" fill="#ff0000"/>
<circle cx="493" cy="312.3" r="1.45" fill="#ff0000"/>
<circle cx="488" cy="319.5" r="1.45" fill="#ff0000"/>
<circle cx="488" cy="340.5" r="1.45" fill="#ff0000"/>
<rect x="499.1" y="386.1" width="13.7" height="6.8" fill="#0000ff"/>
<rect x="499.1" y="392.90000000000003" width="13.7" height="6.8" fill="#ff0000"/>
<text x="514.3000000000001" y="391.70000000000005" class="lg">Cs10 CB</text>
<text x="514.3000000000001" y="398.70000000000005" class="lg">Cs10 ANI</text>
<text transform="translate(299,315) rotate(-90)" class="yt" text-anchor="middle">PCE (%)</text>
<text x="420" y="433.2" class="pl" text-anchor="middle">(<tspan font-weight="bold">d</tspan>)</text>
</svg></body></html>
